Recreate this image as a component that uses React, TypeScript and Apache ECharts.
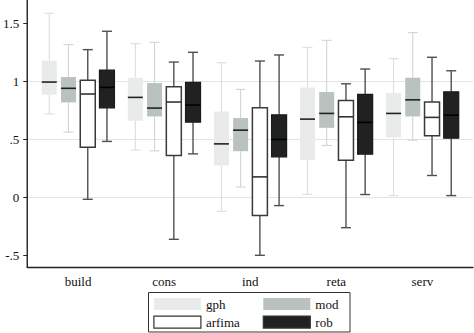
import React, { useEffect, useRef } from "react";
import * as echarts from "echarts";

// Sectors along the x axis
const categories = ["build", "cons", "ind", "reta", "serv"];

// Box summaries per sector: [min, Q1, median, Q3, max]
const gph = [
  [0.72, 0.885, 0.994, 1.178, 1.586],
  [0.41, 0.66, 0.862, 1.031, 1.324],
  [-0.118, 0.276, 0.462, 0.741, 1.16],
  [0.028, 0.324, 0.675, 0.948, 1.293],
  [0.017, 0.517, 0.724, 0.899, 1.195],
];
const mod = [
  [0.563, 0.819, 0.94, 1.037, 1.316],
  [0.402, 0.698, 0.77, 0.985, 1.336],
  [0.091, 0.399, 0.58, 0.684, 0.931],
  [0.448, 0.6, 0.724, 0.908, 1.353],
  [0.494, 0.698, 0.841, 1.031, 1.419],
];
const arfima = [
  [-0.015, 0.434, 0.891, 1.009, 1.273],
  [-0.359, 0.362, 0.822, 0.953, 1.166],
  [-0.497, -0.155, 0.178, 0.772, 1.175],
  [-0.259, 0.322, 0.695, 0.836, 0.979],
  [0.19, 0.531, 0.69, 0.822, 1.207],
];
const rob = [
  [0.483, 0.772, 0.948, 1.097, 1.431],
  [0.376, 0.649, 0.796, 0.991, 1.25],
  [-0.069, 0.35, 0.5, 0.712, 1.227],
  [0.026, 0.373, 0.647, 0.888, 1.106],
  [0.017, 0.511, 0.709, 0.91, 1.091],
];

// Y axis ticks and their labels
const yTickValues = [-0.5, 0, 0.5, 1, 1.5];
const yTickLabels = ["-.5", "0", ".5", "1", "1.5"];

const FONT = "Liberation Serif";

type BoxStyle = {
  fill: string;
  stroke: string;
  boxLine: number;
  whisker: string;
  median: string;
};

const seriesDefs: { name: string; values: number[][]; style: BoxStyle }[] = [
  { name: "gph", values: gph, style: { fill: "#e9ebeb", stroke: "#e9ebeb", boxLine: 0, whisker: "#dcdddd", median: "#222" } },
  { name: "mod", values: mod, style: { fill: "#bac2c0", stroke: "#bac2c0", boxLine: 0, whisker: "#d2d4d4", median: "#222" } },
  { name: "arfima", values: arfima, style: { fill: "#ffffff", stroke: "#3a3a3a", boxLine: 1.5, whisker: "#505050", median: "#333" } },
  { name: "rob", values: rob, style: { fill: "#202221", stroke: "#1a1a1a", boxLine: 1.2, whisker: "#505050", median: "#000" } },
];

// Offset of each box inside its sector group, in axis units
const BOX_OFFSETS = [-0.335, -0.112, 0.112, 0.335];
const BOX_W = 15;
const CAP_W = 10;

export default function App() {
  const ref = useRef<HTMLDivElement>(null);

  useEffect(() => {
    if (!ref.current) return;
    const chart = echarts.init(ref.current, null, { renderer: "svg" });

    const series = seriesDefs.map((def, k) => ({
      type: "custom",
      name: def.name,
      encode: { x: 0, y: [1, 2, 3, 4, 5] },
      itemStyle: {
        color: def.style.fill,
        borderColor: def.style.stroke,
        borderWidth: def.style.boxLine,
      },
      data: def.values.map((v, i) => [i, ...v]),
      renderItem: (params: any, api: any) => {
        const i = api.value(0);
        const xc = api.coord([i + BOX_OFFSETS[k], 0])[0];
        const yMin = api.coord([i, api.value(1)])[1];
        const yQ1 = api.coord([i, api.value(2)])[1];
        const yMed = api.coord([i, api.value(3)])[1];
        const yQ3 = api.coord([i, api.value(4)])[1];
        const yMax = api.coord([i, api.value(5)])[1];
        const s = def.style;
        const wStyle = { stroke: s.whisker, lineWidth: k >= 2 ? 1.4 : 1.1 };
        return {
          type: "group",
          children: [
            { type: "line", shape: { x1: xc, y1: yQ3, x2: xc, y2: yMax }, style: wStyle },
            { type: "line", shape: { x1: xc - CAP_W / 2, y1: yMax, x2: xc + CAP_W / 2, y2: yMax }, style: wStyle },
            { type: "line", shape: { x1: xc, y1: yQ1, x2: xc, y2: yMin }, style: wStyle },
            { type: "line", shape: { x1: xc - CAP_W / 2, y1: yMin, x2: xc + CAP_W / 2, y2: yMin }, style: wStyle },
            {
              type: "rect",
              shape: { x: xc - BOX_W / 2, y: yQ3, width: BOX_W, height: yQ1 - yQ3 },
              style: { fill: s.fill, stroke: s.boxLine > 0 ? s.stroke : null, lineWidth: s.boxLine },
            },
            {
              type: "line",
              shape: { x1: xc - BOX_W / 2, y1: yMed, x2: xc + BOX_W / 2, y2: yMed },
              style: { stroke: s.median, lineWidth: 1.6 },
            },
          ],
        };
      },
    }));

    const legendItem = (name: string) => {
      const d = seriesDefs.find((s) => s.name === name)!;
      return {
        name,
        itemStyle: {
          color: d.style.fill,
          borderColor: d.style.boxLine > 0 ? "#333" : d.style.fill,
          borderWidth: d.style.boxLine > 0 ? 1.2 : 0,
        },
      };
    };

    const legendBase = {
      orient: "vertical",
      top: 297.5,
      padding: 0,
      itemGap: 5,
      itemWidth: 47,
      itemHeight: 12,
      icon: "rect",
      z: 5,
      textStyle: { fontFamily: FONT, fontSize: 13, color: "#111", lineHeight: 13 },
    };

    chart.setOption({
      animation: false,
      backgroundColor: "#ffffff",
      grid: { left: 24, right: 1, top: 0, bottom: 65.7, containLabel: false },
      xAxis: {
        type: "value",
        min: -0.591,
        max: 4.588,
        axisLine: { show: true, onZero: false, lineStyle: { color: "#222", width: 1.4 } },
        axisTick: { show: false },
        splitLine: { show: false },
        axisLabel: {
          customValues: [0, 1, 2, 3, 4],
          formatter: (v: number) => categories[Math.round(v)] ?? "",
          fontFamily: FONT,
          fontSize: 13,
          color: "#111",
          margin: 8,
        },
      },
      yAxis: {
        type: "value",
        min: -0.6,
        max: 1.7,
        axisLine: { show: true, onZero: false, lineStyle: { color: "#222", width: 1.4 } },
        axisTick: { show: true, length: 4, customValues: yTickValues, lineStyle: { color: "#222" } },
        splitLine: { show: true, showMinLine: false, showMaxLine: false, lineStyle: { color: "#e4e4e4", width: 1 } },
        axisLabel: {
          customValues: yTickValues,
          formatter: (v: number) => {
            const idx = yTickValues.findIndex((t) => Math.abs(t - v) < 1e-6);
            return idx >= 0 ? yTickLabels[idx] : "";
          },
          fontFamily: FONT,
          fontSize: 13,
          color: "#111",
          margin: 8,
        },
      },
      legend: [
        { ...legendBase, left: 153.3, data: [legendItem("gph"), legendItem("arfima")] },
        { ...legendBase, left: 262.7, data: [legendItem("mod"), legendItem("rob")] },
      ],
      graphic: [
        {
          type: "rect",
          z: 0,
          shape: { x: 148.5, y: 292.5, width: 201.5, height: 39.5 },
          style: { fill: "#fff", stroke: "#333", lineWidth: 1 },
        },
      ],
      series,
    });

    return () => chart.dispose();
  }, []);

  return (
    <div
      ref={ref}
      style={{ position: "fixed", left: 0, top: 0, width: 474, height: 333 }}
    />
  );
}
